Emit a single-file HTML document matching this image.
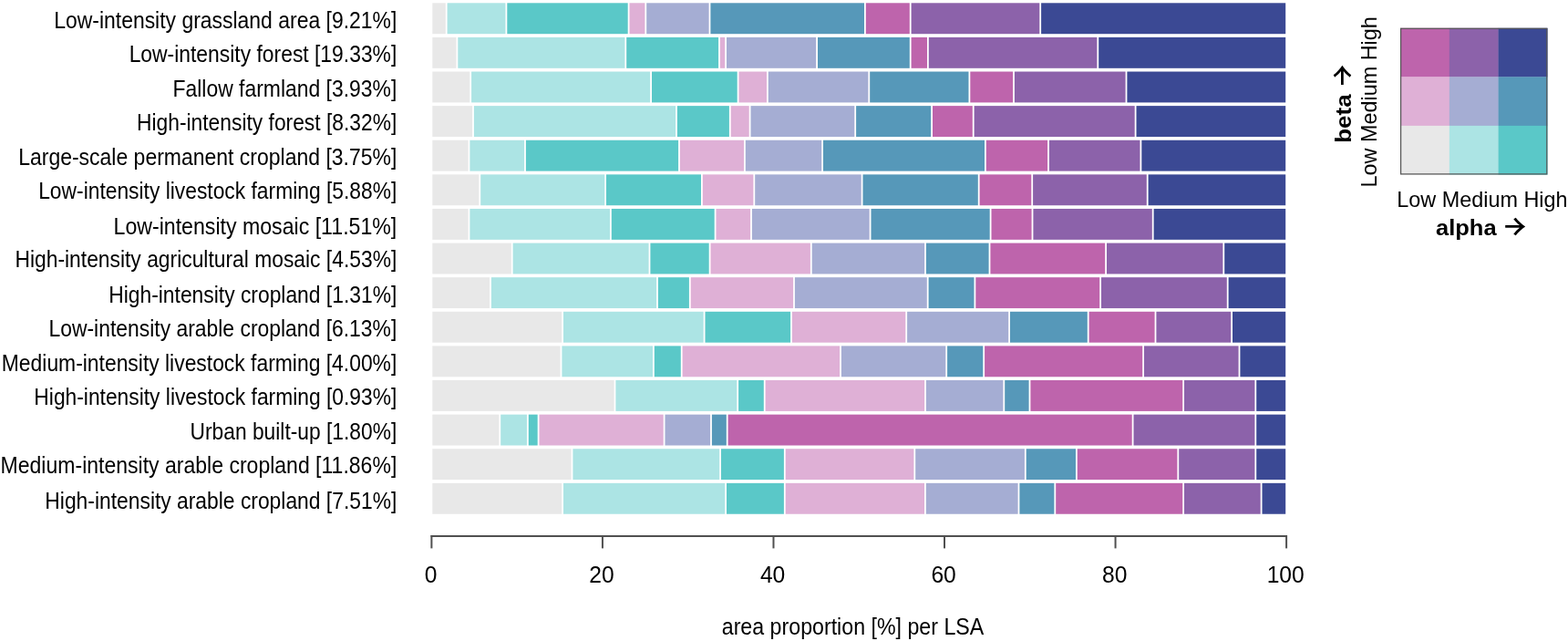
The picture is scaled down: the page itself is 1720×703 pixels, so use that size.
<!DOCTYPE html>
<html><head><meta charset="utf-8"><title>Stacked bar chart</title>
<style>
html,body{margin:0;padding:0;background:#fff;}
body{width:1720px;height:703px;overflow:hidden;}
svg{display:block;}
.lab{font-family:"Liberation Sans",Arial,sans-serif;font-size:23.0px;fill:#000;}
.b{font-weight:bold;font-size:25.5px;}
.bb{font-size:26.0px;}
.lt{font-size:23.4px;}
.arr{font-family:"Noto Sans CJK JP",sans-serif;font-size:40.9px;fill:#000;}
</style></head><body>
<svg width="1720" height="703" viewBox="0 0 1720 703">
<rect x="474.30" y="3.30" width="14.50" height="33.90" fill="#e8e8e8"/>
<rect x="490.60" y="3.30" width="63.90" height="33.90" fill="#ace4e4"/>
<rect x="556.30" y="3.30" width="132.40" height="33.90" fill="#5ac8c8"/>
<rect x="690.50" y="3.30" width="16.90" height="33.90" fill="#dfb0d6"/>
<rect x="709.20" y="3.30" width="68.40" height="33.90" fill="#a5add3"/>
<rect x="779.40" y="3.30" width="168.60" height="33.90" fill="#5698b9"/>
<rect x="949.80" y="3.30" width="48.00" height="33.90" fill="#be64ac"/>
<rect x="999.60" y="3.30" width="140.70" height="33.90" fill="#8c62aa"/>
<rect x="1142.10" y="3.30" width="268.10" height="33.90" fill="#3b4994"/>
<rect x="474.30" y="40.91" width="26.20" height="33.90" fill="#e8e8e8"/>
<rect x="502.30" y="40.91" width="183.10" height="33.90" fill="#ace4e4"/>
<rect x="687.20" y="40.91" width="100.90" height="33.90" fill="#5ac8c8"/>
<rect x="789.90" y="40.91" width="5.30" height="33.90" fill="#dfb0d6"/>
<rect x="797.00" y="40.91" width="98.20" height="33.90" fill="#a5add3"/>
<rect x="897.00" y="40.91" width="100.80" height="33.90" fill="#5698b9"/>
<rect x="999.60" y="40.91" width="17.40" height="33.90" fill="#be64ac"/>
<rect x="1018.80" y="40.91" width="184.60" height="33.90" fill="#8c62aa"/>
<rect x="1205.20" y="40.91" width="205.00" height="33.90" fill="#3b4994"/>
<rect x="474.30" y="78.52" width="41.00" height="33.90" fill="#e8e8e8"/>
<rect x="517.10" y="78.52" width="196.10" height="33.90" fill="#ace4e4"/>
<rect x="715.00" y="78.52" width="93.70" height="33.90" fill="#5ac8c8"/>
<rect x="810.50" y="78.52" width="30.50" height="33.90" fill="#dfb0d6"/>
<rect x="842.80" y="78.52" width="109.60" height="33.90" fill="#a5add3"/>
<rect x="954.20" y="78.52" width="108.30" height="33.90" fill="#5698b9"/>
<rect x="1064.30" y="78.52" width="46.80" height="33.90" fill="#be64ac"/>
<rect x="1112.90" y="78.52" width="121.70" height="33.90" fill="#8c62aa"/>
<rect x="1236.40" y="78.52" width="173.80" height="33.90" fill="#3b4994"/>
<rect x="474.30" y="116.13" width="43.80" height="33.90" fill="#e8e8e8"/>
<rect x="519.90" y="116.13" width="221.20" height="33.90" fill="#ace4e4"/>
<rect x="742.90" y="116.13" width="57.00" height="33.90" fill="#5ac8c8"/>
<rect x="801.70" y="116.13" width="20.00" height="33.90" fill="#dfb0d6"/>
<rect x="823.50" y="116.13" width="113.80" height="33.90" fill="#a5add3"/>
<rect x="939.10" y="116.13" width="82.10" height="33.90" fill="#5698b9"/>
<rect x="1023.00" y="116.13" width="43.80" height="33.90" fill="#be64ac"/>
<rect x="1068.60" y="116.13" width="176.10" height="33.90" fill="#8c62aa"/>
<rect x="1246.50" y="116.13" width="163.70" height="33.90" fill="#3b4994"/>
<rect x="474.30" y="153.74" width="39.30" height="33.90" fill="#e8e8e8"/>
<rect x="515.40" y="153.74" width="59.70" height="33.90" fill="#ace4e4"/>
<rect x="576.90" y="153.74" width="167.20" height="33.90" fill="#5ac8c8"/>
<rect x="745.90" y="153.74" width="70.10" height="33.90" fill="#dfb0d6"/>
<rect x="817.80" y="153.74" width="83.40" height="33.90" fill="#a5add3"/>
<rect x="903.00" y="153.74" width="177.00" height="33.90" fill="#5698b9"/>
<rect x="1081.80" y="153.74" width="67.30" height="33.90" fill="#be64ac"/>
<rect x="1150.90" y="153.74" width="99.60" height="33.90" fill="#8c62aa"/>
<rect x="1252.30" y="153.74" width="157.90" height="33.90" fill="#3b4994"/>
<rect x="474.30" y="191.35" width="51.10" height="33.90" fill="#e8e8e8"/>
<rect x="527.20" y="191.35" width="136.00" height="33.90" fill="#ace4e4"/>
<rect x="665.00" y="191.35" width="104.00" height="33.90" fill="#5ac8c8"/>
<rect x="770.80" y="191.35" width="55.60" height="33.90" fill="#dfb0d6"/>
<rect x="828.20" y="191.35" width="116.50" height="33.90" fill="#a5add3"/>
<rect x="946.50" y="191.35" width="126.30" height="33.90" fill="#5698b9"/>
<rect x="1074.60" y="191.35" width="56.70" height="33.90" fill="#be64ac"/>
<rect x="1133.10" y="191.35" width="124.70" height="33.90" fill="#8c62aa"/>
<rect x="1259.60" y="191.35" width="150.60" height="33.90" fill="#3b4994"/>
<rect x="474.30" y="228.96" width="39.30" height="33.90" fill="#e8e8e8"/>
<rect x="515.40" y="228.96" width="153.60" height="33.90" fill="#ace4e4"/>
<rect x="670.80" y="228.96" width="112.90" height="33.90" fill="#5ac8c8"/>
<rect x="785.50" y="228.96" width="37.60" height="33.90" fill="#dfb0d6"/>
<rect x="824.90" y="228.96" width="128.80" height="33.90" fill="#a5add3"/>
<rect x="955.50" y="228.96" width="130.20" height="33.90" fill="#5698b9"/>
<rect x="1087.50" y="228.96" width="44.10" height="33.90" fill="#be64ac"/>
<rect x="1133.40" y="228.96" width="130.40" height="33.90" fill="#8c62aa"/>
<rect x="1265.60" y="228.96" width="144.60" height="33.90" fill="#3b4994"/>
<rect x="474.30" y="266.57" width="86.50" height="33.90" fill="#e8e8e8"/>
<rect x="562.60" y="266.57" width="149.00" height="33.90" fill="#ace4e4"/>
<rect x="713.40" y="266.57" width="64.30" height="33.90" fill="#5ac8c8"/>
<rect x="779.50" y="266.57" width="109.40" height="33.90" fill="#dfb0d6"/>
<rect x="890.70" y="266.57" width="123.40" height="33.90" fill="#a5add3"/>
<rect x="1015.90" y="266.57" width="68.70" height="33.90" fill="#5698b9"/>
<rect x="1086.40" y="266.57" width="125.80" height="33.90" fill="#be64ac"/>
<rect x="1214.00" y="266.57" width="127.40" height="33.90" fill="#8c62aa"/>
<rect x="1343.20" y="266.57" width="67.00" height="33.90" fill="#3b4994"/>
<rect x="474.30" y="304.18" width="62.80" height="33.90" fill="#e8e8e8"/>
<rect x="538.90" y="304.18" width="181.20" height="33.90" fill="#ace4e4"/>
<rect x="721.90" y="304.18" width="34.00" height="33.90" fill="#5ac8c8"/>
<rect x="757.70" y="304.18" width="112.40" height="33.90" fill="#dfb0d6"/>
<rect x="871.90" y="304.18" width="144.90" height="33.90" fill="#a5add3"/>
<rect x="1018.60" y="304.18" width="49.90" height="33.90" fill="#5698b9"/>
<rect x="1070.30" y="304.18" width="135.90" height="33.90" fill="#be64ac"/>
<rect x="1208.00" y="304.18" width="137.80" height="33.90" fill="#8c62aa"/>
<rect x="1347.60" y="304.18" width="62.60" height="33.90" fill="#3b4994"/>
<rect x="474.30" y="341.79" width="141.90" height="33.90" fill="#e8e8e8"/>
<rect x="618.00" y="341.79" width="153.70" height="33.90" fill="#ace4e4"/>
<rect x="773.50" y="341.79" width="93.60" height="33.90" fill="#5ac8c8"/>
<rect x="868.90" y="341.79" width="124.40" height="33.90" fill="#dfb0d6"/>
<rect x="995.10" y="341.79" width="111.10" height="33.90" fill="#a5add3"/>
<rect x="1108.00" y="341.79" width="84.80" height="33.90" fill="#5698b9"/>
<rect x="1194.60" y="341.79" width="72.00" height="33.90" fill="#be64ac"/>
<rect x="1268.40" y="341.79" width="81.80" height="33.90" fill="#8c62aa"/>
<rect x="1352.00" y="341.79" width="58.20" height="33.90" fill="#3b4994"/>
<rect x="474.30" y="379.40" width="140.30" height="33.90" fill="#e8e8e8"/>
<rect x="616.40" y="379.40" width="99.60" height="33.90" fill="#ace4e4"/>
<rect x="717.80" y="379.40" width="29.00" height="33.90" fill="#5ac8c8"/>
<rect x="748.60" y="379.40" width="172.50" height="33.90" fill="#dfb0d6"/>
<rect x="922.90" y="379.40" width="114.40" height="33.90" fill="#a5add3"/>
<rect x="1039.10" y="379.40" width="39.20" height="33.90" fill="#5698b9"/>
<rect x="1080.10" y="379.40" width="173.10" height="33.90" fill="#be64ac"/>
<rect x="1255.00" y="379.40" width="103.60" height="33.90" fill="#8c62aa"/>
<rect x="1360.40" y="379.40" width="49.80" height="33.90" fill="#3b4994"/>
<rect x="474.30" y="417.01" width="199.30" height="33.90" fill="#e8e8e8"/>
<rect x="675.40" y="417.01" width="132.90" height="33.90" fill="#ace4e4"/>
<rect x="810.10" y="417.01" width="27.70" height="33.90" fill="#5ac8c8"/>
<rect x="839.60" y="417.01" width="174.50" height="33.90" fill="#dfb0d6"/>
<rect x="1015.90" y="417.01" width="84.50" height="33.90" fill="#a5add3"/>
<rect x="1102.20" y="417.01" width="26.40" height="33.90" fill="#5698b9"/>
<rect x="1130.40" y="417.01" width="166.80" height="33.90" fill="#be64ac"/>
<rect x="1299.00" y="417.01" width="77.40" height="33.90" fill="#8c62aa"/>
<rect x="1378.20" y="417.01" width="32.00" height="33.90" fill="#3b4994"/>
<rect x="474.30" y="454.62" width="73.10" height="33.90" fill="#e8e8e8"/>
<rect x="549.20" y="454.62" width="28.80" height="33.90" fill="#ace4e4"/>
<rect x="579.80" y="454.62" width="9.90" height="33.90" fill="#5ac8c8"/>
<rect x="591.50" y="454.62" width="136.20" height="33.90" fill="#dfb0d6"/>
<rect x="729.50" y="454.62" width="49.60" height="33.90" fill="#a5add3"/>
<rect x="780.90" y="454.62" width="15.90" height="33.90" fill="#5698b9"/>
<rect x="798.60" y="454.62" width="443.10" height="33.90" fill="#be64ac"/>
<rect x="1243.50" y="454.62" width="132.90" height="33.90" fill="#8c62aa"/>
<rect x="1378.20" y="454.62" width="32.00" height="33.90" fill="#3b4994"/>
<rect x="474.30" y="492.23" width="152.30" height="33.90" fill="#e8e8e8"/>
<rect x="628.40" y="492.23" width="160.80" height="33.90" fill="#ace4e4"/>
<rect x="791.00" y="492.23" width="68.90" height="33.90" fill="#5ac8c8"/>
<rect x="861.70" y="492.23" width="140.70" height="33.90" fill="#dfb0d6"/>
<rect x="1004.20" y="492.23" width="119.70" height="33.90" fill="#a5add3"/>
<rect x="1125.70" y="492.23" width="54.30" height="33.90" fill="#5698b9"/>
<rect x="1181.80" y="492.23" width="109.60" height="33.90" fill="#be64ac"/>
<rect x="1293.20" y="492.23" width="83.20" height="33.90" fill="#8c62aa"/>
<rect x="1378.20" y="492.23" width="32.00" height="33.90" fill="#3b4994"/>
<rect x="474.30" y="529.84" width="141.90" height="33.90" fill="#e8e8e8"/>
<rect x="618.00" y="529.84" width="177.20" height="33.90" fill="#ace4e4"/>
<rect x="797.00" y="529.84" width="62.90" height="33.90" fill="#5ac8c8"/>
<rect x="861.70" y="529.84" width="152.30" height="33.90" fill="#dfb0d6"/>
<rect x="1015.80" y="529.84" width="100.80" height="33.90" fill="#a5add3"/>
<rect x="1118.40" y="529.84" width="38.00" height="33.90" fill="#5698b9"/>
<rect x="1158.20" y="529.84" width="139.00" height="33.90" fill="#be64ac"/>
<rect x="1299.00" y="529.84" width="83.70" height="33.90" fill="#8c62aa"/>
<rect x="1384.50" y="529.84" width="25.70" height="33.90" fill="#3b4994"/>
<text transform="translate(435.30 30.95) scale(0.9976 1.1)" text-anchor="end" class="lab">Low-intensity grassland area [9.21%]</text>
<text transform="translate(435.30 67.85) scale(0.9949 1.1)" text-anchor="end" class="lab">Low-intensity forest [19.33%]</text>
<text transform="translate(435.30 106.00) scale(0.9971 1.1)" text-anchor="end" class="lab">Fallow farmland [3.93%]</text>
<text transform="translate(435.30 143.40) scale(0.9926 1.1)" text-anchor="end" class="lab">High-intensity forest [8.32%]</text>
<text transform="translate(435.30 181.40) scale(0.9998 1.1)" text-anchor="end" class="lab">Large-scale permanent cropland [3.75%]</text>
<text transform="translate(435.30 218.20) scale(0.9929 1.1)" text-anchor="end" class="lab">Low-intensity livestock farming [5.88%]</text>
<text transform="translate(435.30 256.60) scale(1.0065 1.1)" text-anchor="end" class="lab">Low-intensity mosaic [11.51%]</text>
<text transform="translate(435.30 293.20) scale(0.9933 1.1)" text-anchor="end" class="lab">High-intensity agricultural mosaic [4.53%]</text>
<text transform="translate(435.30 331.60) scale(0.9933 1.1)" text-anchor="end" class="lab">High-intensity cropland [1.31%]</text>
<text transform="translate(435.30 369.20) scale(0.9958 1.1)" text-anchor="end" class="lab">Low-intensity arable cropland [6.13%]</text>
<text transform="translate(435.30 407.00) scale(0.9951 1.1)" text-anchor="end" class="lab">Medium-intensity livestock farming [4.00%]</text>
<text transform="translate(435.30 444.20) scale(0.9917 1.1)" text-anchor="end" class="lab">High-intensity livestock farming [0.93%]</text>
<text transform="translate(435.30 482.40) scale(0.9911 1.1)" text-anchor="end" class="lab">Urban built-up [1.80%]</text>
<text transform="translate(435.30 519.20) scale(1.0012 1.1)" text-anchor="end" class="lab">Medium-intensity arable cropland [11.86%]</text>
<text transform="translate(435.30 557.60) scale(0.9935 1.1)" text-anchor="end" class="lab">High-intensity arable cropland [7.51%]</text>
<line x1="472.59999999999997" y1="588.0" x2="1411.8999999999999" y2="588.0" stroke="#505050" stroke-width="2"/>
<line x1="473.40" y1="587.0" x2="473.40" y2="601.4" stroke="#505050" stroke-width="2"/>
<text transform="translate(472.50 639.3) scale(1.07 1.1)" text-anchor="middle" class="lab">0</text>
<line x1="660.94" y1="587.0" x2="660.94" y2="601.4" stroke="#505050" stroke-width="2"/>
<text transform="translate(660.04 639.3) scale(1.07 1.1)" text-anchor="middle" class="lab">20</text>
<line x1="848.48" y1="587.0" x2="848.48" y2="601.4" stroke="#505050" stroke-width="2"/>
<text transform="translate(847.58 639.3) scale(1.07 1.1)" text-anchor="middle" class="lab">40</text>
<line x1="1036.02" y1="587.0" x2="1036.02" y2="601.4" stroke="#505050" stroke-width="2"/>
<text transform="translate(1035.12 639.3) scale(1.07 1.1)" text-anchor="middle" class="lab">60</text>
<line x1="1223.56" y1="587.0" x2="1223.56" y2="601.4" stroke="#505050" stroke-width="2"/>
<text transform="translate(1222.66 639.3) scale(1.07 1.1)" text-anchor="middle" class="lab">80</text>
<line x1="1411.10" y1="587.0" x2="1411.10" y2="601.4" stroke="#505050" stroke-width="2"/>
<text transform="translate(1410.20 639.3) scale(1.07 1.1)" text-anchor="middle" class="lab">100</text>
<text transform="translate(935.5 696.4) scale(1.009 1.1)" text-anchor="middle" class="lab">area proportion [%] per LSA</text>
<rect x="1536.10" y="30.80" width="54.03" height="53.83" fill="#be64ac"/>
<rect x="1589.83" y="30.80" width="54.03" height="53.83" fill="#8c62aa"/>
<rect x="1643.57" y="30.80" width="54.03" height="53.83" fill="#3b4994"/>
<rect x="1536.10" y="84.33" width="54.03" height="53.83" fill="#dfb0d6"/>
<rect x="1589.83" y="84.33" width="54.03" height="53.83" fill="#a5add3"/>
<rect x="1643.57" y="84.33" width="54.03" height="53.83" fill="#5698b9"/>
<rect x="1536.10" y="137.87" width="54.03" height="53.83" fill="#e8e8e8"/>
<rect x="1589.83" y="137.87" width="54.03" height="53.83" fill="#ace4e4"/>
<rect x="1643.57" y="137.87" width="54.03" height="53.83" fill="#5ac8c8"/>
<rect x="1536.60" y="31.30" width="160.20" height="159.60" fill="none" stroke="#555" stroke-width="1.2"/>
<text transform="translate(1625.90 227.00)" text-anchor="middle" class="lab lt">Low Medium High</text>
<text transform="translate(1509.50 111.80) rotate(-90)" text-anchor="middle" class="lab lt">Low Medium High</text>
<text transform="translate(1575.03 257.70) scale(1 0.95)" class="lab b">alpha</text>
<text transform="translate(1481.60 156.79) rotate(-90) scale(1 0.95)" class="lab b bb">beta</text>
<defs><clipPath id="ca"><rect x="1651.2" y="230" width="30" height="35"/></clipPath><clipPath id="cb"><rect x="1460" y="65" width="26" height="28"/></clipPath></defs>
<text x="1633.73" y="264.15" class="arr" clip-path="url(#ca)">→</text>
<g clip-path="url(#cb)"><text transform="translate(1488.05 111.27) rotate(-90)" class="arr">→</text></g>
</svg>
</body></html>
